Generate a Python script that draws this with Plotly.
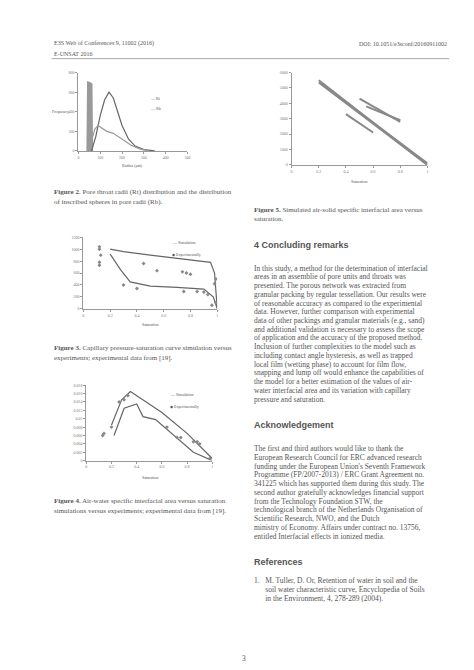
import plotly.graph_objects as go

W, H = 474, 670

# --- data ---
f2_rt_x = [40, 43, 46, 49, 52, 55, 58, 61, 64, 66]
f2_rt_y = [0, 710, 0, 705, 0, 700, 0, 690, 0, 0]
f2_rb_x = [60, 80, 100, 120, 140, 160, 180, 200, 230, 260, 300, 350]
f2_rb_y = [0, 150, 360, 520, 600, 540, 400, 260, 120, 50, 15, 0]
f2_rc_x = [60, 75, 90, 110, 130, 160, 200, 240, 280, 320]
f2_rc_y = [100, 220, 260, 230, 200, 180, 120, 60, 20, 0]

f3_sim_sw = [0.2, 0.3, 0.5, 0.7, 0.9, 0.95, 0.98, 1.0, 1.0, 0.97, 0.9, 0.7, 0.5, 0.35, 0.28, 0.22, 0.2]
f3_sim_pc = [1000, 960, 900, 850, 800, 780, 600, 100, 0, 200, 330, 360, 380, 450, 650, 850, 920]
f3_exp_sw = [0.12, 0.12, 0.13, 0.12, 0.12, 0.3, 0.4, 0.45, 0.55, 0.75, 0.85, 0.74, 0.77, 0.8, 0.9, 0.93, 0.98, 0.99, 0.99, 0.96]
f3_exp_pc = [1040, 1000, 900, 780, 730, 400, 340, 760, 640, 290, 290, 620, 600, 580, 280, 240, 420, 500, 100, 60]

f4_sim_sw = [0.2, 0.28, 0.35, 0.45, 0.6, 0.8, 1.0, None, 0.22, 0.3, 0.4, 0.45, 0.55, 0.7, 0.85, 1.0]
f4_sim_a = [0.0085, 0.0145, 0.0165, 0.0145, 0.0115, 0.0065, 0.0005, None, 0.006, 0.0125, 0.0135, 0.0105, 0.0098, 0.006, 0.002, 0.0]
f4_exp_sw = [0.13, 0.14, 0.2, 0.26, 0.3, 0.33, 0.64, 0.72, 0.75, 0.85, 0.88, 0.9, 0.98]
f4_exp_a = [0.006, 0.0065, 0.008, 0.014, 0.0145, 0.0155, 0.008, 0.0055, 0.0055, 0.0045, 0.0045, 0.004, 0.0005]

f5_sw = [0.2, 1.0, None, 0.2, 1.0, None, 0.22, 1.0, None, 0.5, 0.8, None, 0.55, 0.8, None, 0.4, 0.6]
f5_a = [5500, 0, None, 5350, 0, None, 5250, 100, None, 4300, 2800, None, 3800, 2900, None, 3300, 2100]

ink = "#666"
lab = "#777"

def px(x): return x / W
def py(y): return 1 - y / H

fig = go.Figure()

# subplot boxes: (xaxis, yaxis, x0, x1, y0, y1) in page pixels
boxes = [
    ("x", "y", 70, 180, 62, 141),
    ("x2", "y2", 75, 210, 228, 300),
    ("x3", "y3", 78, 205, 377, 453),
    ("x4", "y4", 285, 422, 62, 155),
]

line = dict(color=ink, width=1.2)
fig.add_trace(go.Scatter(x=f2_rt_x, y=f2_rt_y, mode="lines", line=dict(color="#999", width=1.5), xaxis="x", yaxis="y"))
fig.add_trace(go.Scatter(x=f2_rb_x, y=f2_rb_y, mode="lines", line=line, xaxis="x", yaxis="y"))
fig.add_trace(go.Scatter(x=f2_rc_x, y=f2_rc_y, mode="lines", line=dict(color="#999", width=1.2), xaxis="x", yaxis="y"))

mk = dict(color="#888", size=3, symbol="diamond")
fig.add_trace(go.Scatter(x=f3_sim_sw, y=f3_sim_pc, mode="lines", line=line, xaxis="x2", yaxis="y2"))
fig.add_trace(go.Scatter(x=f3_exp_sw, y=f3_exp_pc, mode="markers", marker=mk, xaxis="x2", yaxis="y2"))

fig.add_trace(go.Scatter(x=f4_sim_sw, y=f4_sim_a, mode="lines", line=line, xaxis="x3", yaxis="y3"))
fig.add_trace(go.Scatter(x=f4_exp_sw, y=f4_exp_a, mode="markers", marker=mk, xaxis="x3", yaxis="y3"))

fig.add_trace(go.Scatter(x=f5_sw, y=f5_a, mode="lines", line=dict(color="#888", width=2), xaxis="x4", yaxis="y4"))

ax_common = dict(showgrid=False, zeroline=False, showline=True, linecolor="#999", linewidth=1,
                 ticks="outside", ticklen=2, tickcolor="#999",
                 tickfont=dict(size=4, color=lab, family="Liberation Serif"))
layout = dict(width=W, height=H, margin=dict(l=0, r=0, t=0, b=0), showlegend=False,
              paper_bgcolor="white", plot_bgcolor="white")
ranges = [
    ([0, 500], [0, 800], 100, 200),
    ([0, 1], [0, 1200], 0.2, 200),
    ([0, 1], [0, 0.018], 0.2, 0.002),
    ([0, 1], [0, 6000], 0.2, 1000),
]
for i, ((xa, ya, x0, x1, y0, y1), (xr, yr, dx, dy)) in enumerate(zip(boxes, ranges)):
    s = "" if i == 0 else str(i + 1)
    layout["xaxis" + s] = dict(ax_common, domain=[px(x0), px(x1)], range=xr, dtick=dx, anchor="y" + s)
    layout["yaxis" + s] = dict(ax_common, domain=[py(y1), py(y0)], range=yr, dtick=dy, anchor="x" + s)
fig.update_layout(**layout)

serif = "Liberation Serif"
def txt(x, y, t, size=7.5, bold=False, anchor="left", color="#555", font=serif):
    if bold:
        t = "<b>" + t + "</b>"
    fig.add_annotation(x=px(x), y=py(y), xref="paper", yref="paper", text=t, showarrow=False,
                       xanchor=anchor, yanchor="middle", align="left" if anchor == "left" else anchor,
                       font=dict(size=size, color=color, family=font))

# header
txt(43, 33, "E3S Web of Conferences 9, 11002 (2016)", 6)
txt(43, 43, "E-UNSAT 2016", 6)
txt(444, 33, "DOI: 10.1051/e3sconf/20160911002", 6, anchor="right")
fig.add_shape(type="line", xref="paper", yref="paper", x0=px(43), x1=px(444), y0=py(48), y1=py(48),
              line=dict(color="#aaa", width=1))

# axis titles and legends
txt(125, 156, "Radius (µm)", 4, anchor="center")
txt(52, 101, "Frequency", 4, anchor="center")
txt(140, 88, "— Rt", 4); txt(140, 98, "— Rb", 4)
txt(142, 316, "Saturation", 4, anchor="center")
txt(162, 233, "— Simulation", 4); txt(162, 245, "◆ Experimentally", 4)
txt(142, 470, "Saturation", 4, anchor="center")
txt(160, 386, "— Simulation", 4); txt(160, 398, "◆ Experimentally", 4)
txt(353, 172, "Saturation", 4, anchor="center")

# captions
cs = 7
txt(43, 182, "<b>Figure 2.</b> Pore throat radii (Rt) distribution and the distribution", cs)
txt(43, 192, "of inscribed spheres in pore radii (Rb).", cs)
txt(43, 340, "<b>Figure 3.</b> Capillary pressure-saturation curve simulation versus", cs)
txt(43, 350, "experiments; experimental data from [19].", cs)
txt(43, 494, "<b>Figure 4.</b> Air-water specific interfacial area versus saturation", cs)
txt(43, 504, "simulations versus experiments; experimental data from [19].", cs)
txt(245, 200, "<b>Figure 5.</b> Simulated air-solid specific interfacial area versus", cs)
txt(245, 210, "saturation.", cs)

# right column text
txt(245, 236, "4 Concluding remarks", 9, True, font="Liberation Sans")
para1 = ["In this study, a method for the determination of interfacial",
         "areas in an assemblie of pore units and throats was",
         "presented. The porous network was extracted from",
         "granular packing by regular tessellation. Our results were",
         "of reasonable accuracy as compared to the experimental",
         "data. However, further comparison with experimental",
         "data of other packings and granular materials (e.g., sand)",
         "and additional validation is necessary to assess the scope",
         "of application and the accuracy of the proposed method.",
         "Inclusion of further complexities to the model such as",
         "including contact angle hysteresis, as well as trapped",
         "local film (wetting phase) to account for film flow,",
         "snapping and lump off would enhance the capabilities of",
         "the model for a better estimation of the values of air-",
         "water interfacial area and its variation with capillary",
         "pressure and saturation."]
for i, s in enumerate(para1):
    txt(245, 259 + i * 8.8, s)
txt(245, 417, "Acknowledgement", 9, True, font="Liberation Sans")
para2 = ["The first and third authors would like to thank the",
         "European Research Council for ERC advanced research",
         "funding under the European Union's Seventh Framework",
         "Programme (FP/2007-2013) / ERC Grant Agreement no.",
         "341225 which has supported them during this study. The",
         "second author gratefully acknowledges financial support",
         "from the Technology Foundation STW, the",
         "technological branch of the Netherlands Organisation of",
         "Scientific Research, NWO, and the Dutch",
         "ministry of Economy. Affairs under contract no. 13756,",
         "entitled Interfacial effects in ionized media."]
for i, s in enumerate(para2):
    txt(245, 441 + i * 8.8, s)
txt(245, 555, "References", 9, True, font="Liberation Sans")
refs = ["1.   M. Tuller, D. Or, Retention of water in soil and the",
        "      soil water characteristic curve, Encyclopedia of Soils",
        "      in the Environment, 4, 278-289 (2004)."]
for i, s in enumerate(refs):
    txt(245, 574 + i * 8.8, s)
txt(237, 652, "3", anchor="center")

fig.write_html("out.html")
